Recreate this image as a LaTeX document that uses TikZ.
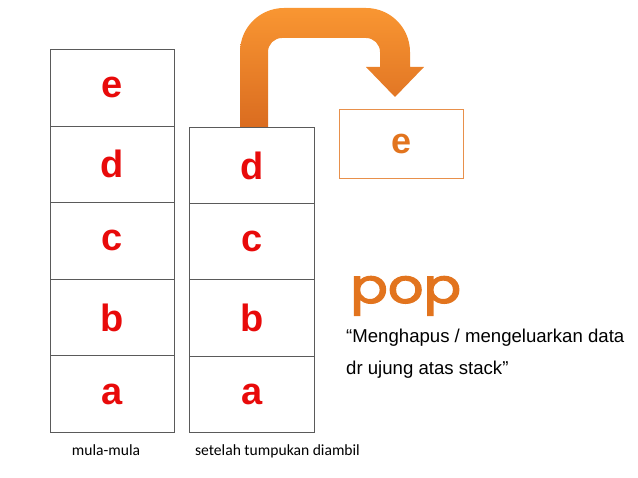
\documentclass[tikz,border=0pt]{standalone}
\usepackage{fontspec}
\setmainfont{Liberation Sans}
\newfontfamily\popfont[FakeBold=2.5]{Poppins}
\newfontfamily\calfont{Carlito}
\definecolor{cellred}{RGB}{232,10,10}
\definecolor{popor}{RGB}{226,116,30}
\definecolor{arrlight}{RGB}{249,150,50}
\definecolor{arrdark}{RGB}{218,108,32}
\definecolor{boxline}{RGB}{90,90,90}
\tikzset{
  cell/.style={draw=boxline, line width=0.8pt, rectangle, inner sep=0pt, anchor=north west,
    minimum width=124pt, font=\fontsize{38}{40}\selectfont\bfseries, text=cellred},
  outbox/.style={draw=popor!80, line width=1pt, rectangle, inner sep=0pt, anchor=north west,
    minimum width=124pt, minimum height=69pt, font=\fontsize{36}{38}\selectfont\bfseries, text=popor},
  caption/.style={font=\calfont\fontsize{15.6}{18}\selectfont, text=black},
  quote/.style={anchor=base west, inner sep=0pt, font=\fontsize{18.6}{20}\selectfont}
}
\begin{document}
\begin{tikzpicture}[x=1pt,y=-1pt]
\useasboundingbox (0,0) rectangle (638,478);
% left stack
\node[cell, minimum height=76.6pt] (le) at (50,49) {e};
\node[cell, minimum height=76.6pt] (ld) at (50,125.6) {d};
\node[cell, minimum height=76.6pt] (lc) at (50,202.2) {c};
\node[cell, minimum height=76.6pt] (lb) at (50,278.8) {b};
\node[cell, minimum height=76.6pt] (la) at (50,355.4) {a};
% right stack
\node[cell, minimum height=76.25pt, minimum width=125pt] (rd) at (189,127) {d};
\node[cell, minimum height=76.25pt, minimum width=125pt] (rc) at (189,203.25) {c};
\node[cell, minimum height=76.25pt, minimum width=125pt] (rb) at (189,279.5) {b};
\node[cell, minimum height=76.25pt, minimum width=125pt] (ra) at (189,355.75) {a};
% popped element
\node[outbox] (pe) at (339,109) {e};
% arrow
\shade[top color=arrlight, bottom color=arrdark]
  (240,127) [rounded corners=44pt] -- (240,8) -- (410,8) [rounded corners=0pt] -- (410,67)
  -- (424,67) -- (395,97) -- (366,67) -- (380,67) [rounded corners=14pt] -- (380,38) -- (268,38)
  [rounded corners=0pt] -- (268,127) -- cycle;
% texts
\node[anchor=base west, inner sep=0pt, text=popor, xscale=1.16, font=\popfont\fontsize{48}{50}\selectfont] (pop) at (350,303) {pop};
\node[quote] (q1) at (346,343) {“Menghapus / mengeluarkan data};
\node[quote] (q2) at (346,375) {dr ujung atas stack”};
\node[caption, anchor=base] (c1) at (106,456) {mula-mula};
\node[caption, anchor=base] (c2) at (277.5,456) {setelah tumpukan diambil};
\end{tikzpicture}
\end{document}
